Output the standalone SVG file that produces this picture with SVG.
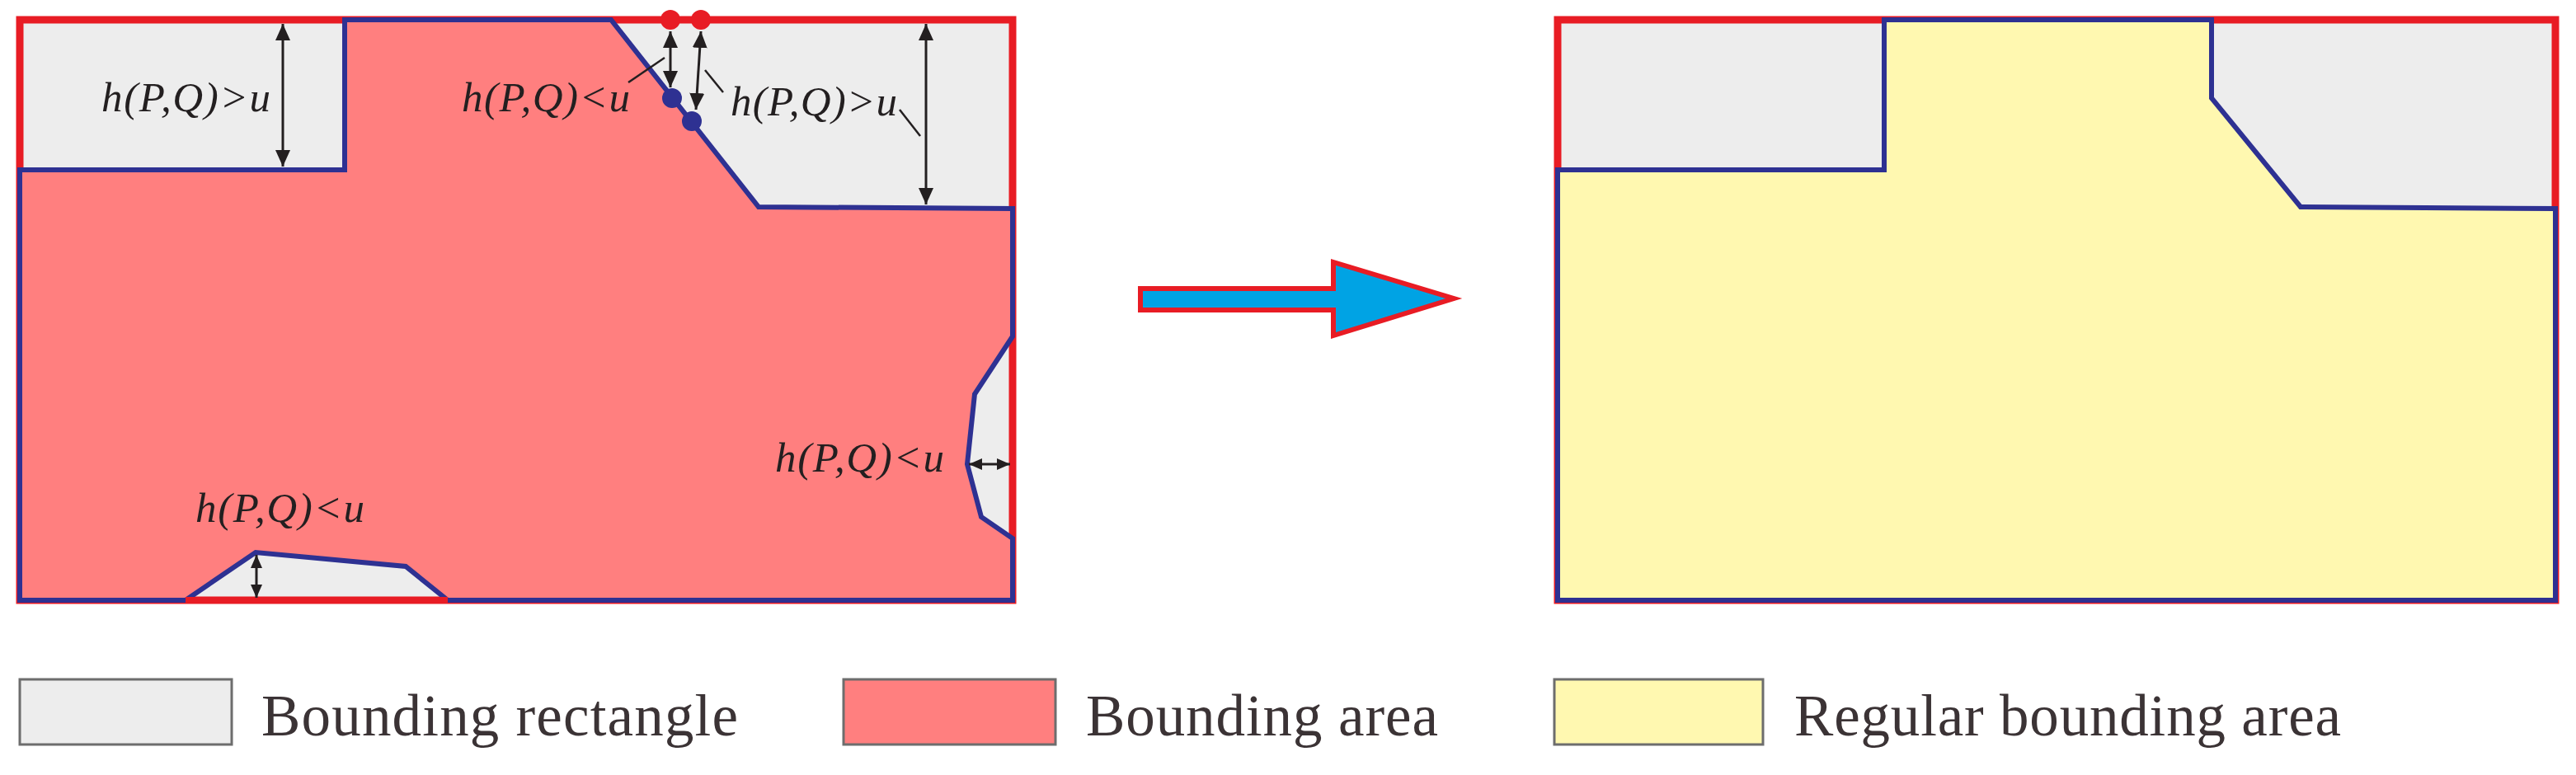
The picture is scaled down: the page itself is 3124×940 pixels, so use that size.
<svg xmlns="http://www.w3.org/2000/svg" width="3124" height="940" viewBox="0 0 3124 940">
<style>
.bg{fill:#ffffff}
.rect{fill:#ededed;stroke:#e81c24;stroke-width:9}
.area{fill:#ff7f7f;stroke:#2e3192;stroke-width:6;stroke-linejoin:miter}
.reg{fill:#fff8b0;stroke:#2e3192;stroke-width:6;stroke-linejoin:miter}
.dim{stroke:#231f20;stroke-width:3;fill:none}
.dims{stroke:#231f20;stroke-width:3;fill:none}
.lead{stroke:#231f20;stroke-width:2.5;fill:none}
.math{font-family:"Liberation Serif","Times New Roman",serif;font-style:italic;font-size:51px;fill:#231f20}
.leg{font-family:"Liberation Serif","Times New Roman",serif;font-size:71px;fill:#3b3335}
.box{stroke:#6d6d6d;stroke-width:3}
</style>
<defs>
<marker id="ah" markerUnits="userSpaceOnUse" markerWidth="20" markerHeight="18" refX="20" refY="9" orient="auto-start-reverse" viewBox="0 0 20 18">
<path d="M0,0 L20,9 L0,18 z" fill="#231f20"/>
</marker>
<marker id="ahs" markerUnits="userSpaceOnUse" markerWidth="16" markerHeight="14" refX="16" refY="7" orient="auto-start-reverse" viewBox="0 0 16 14">
<path d="M0,0 L16,7 L0,14 z" fill="#231f20"/>
</marker>
</defs>
<rect class="bg" x="0" y="0" width="3124" height="940"/>

<g id="left-panel">
<rect class="rect" x="24" y="24" width="1204" height="704"/>
<polygon class="area" points="24,206 418,206 418,24 741,24 920,251 1228,253 1228,408 1182,478 1173,563 1190,627 1228,653 1228,728 543,728 492,687 310,670 225,728 24,728"/>
<line x1="225" y1="728" x2="543" y2="728" stroke="#e81c24" stroke-width="8"/>
<circle cx="813" cy="24" r="12" fill="#e81c24"/>
<circle cx="850" cy="24" r="12" fill="#e81c24"/>
<circle cx="815" cy="119" r="12" fill="#2e3192"/>
<circle cx="839" cy="147" r="12" fill="#2e3192"/>
</g>

<g id="connectors">
<line class="dim" x1="343" y1="29" x2="343" y2="202" marker-start="url(#ah)" marker-end="url(#ah)"/>
<line class="dim" x1="813" y1="38" x2="813" y2="106" marker-start="url(#ah)" marker-end="url(#ah)"/>
<line class="dim" x1="850" y1="38" x2="844" y2="133" marker-start="url(#ah)" marker-end="url(#ah)"/>
<line class="dim" x1="1123" y1="29" x2="1123" y2="248" marker-start="url(#ah)" marker-end="url(#ah)"/>
<line class="dims" x1="1175" y1="563" x2="1225" y2="563" marker-start="url(#ahs)" marker-end="url(#ahs)"/>
<line class="dims" x1="311" y1="673" x2="311" y2="725" marker-start="url(#ahs)" marker-end="url(#ahs)"/>
<line class="lead" x1="762" y1="100" x2="806" y2="70"/>
<line class="lead" x1="855" y1="85" x2="877" y2="112"/>
<line class="lead" x1="1091" y1="133" x2="1116" y2="165"/>
</g>

<g id="labels">
<text class="math" x="123" y="135" textLength="205">h(P,Q)&gt;u</text>
<text class="math" x="560" y="135" textLength="204">h(P,Q)&lt;u</text>
<text class="math" x="886" y="140" textLength="202">h(P,Q)&gt;u</text>
<text class="math" x="940" y="572" textLength="205">h(P,Q)&lt;u</text>
<text class="math" x="237" y="633" textLength="205">h(P,Q)&lt;u</text>
</g>

<g id="transform-arrow">
<polygon points="1383,350 1617,350 1617,318 1763,362 1617,407 1617,376 1383,376" fill="#00a3e4" stroke="#e81c24" stroke-width="6" stroke-linejoin="miter"/>
</g>

<g id="right-panel">
<rect class="rect" x="1889" y="24" width="1210" height="704"/>
<polygon class="reg" points="1889,206 2285,206 2285,24 2682,24 2682,119 2790,251 3099,253 3099,728 1889,728"/>
</g>

<g id="legend-rectangle">
<rect class="box" x="24" y="824" width="257" height="79" fill="#ededed"/>
<text class="leg" x="317" y="892" textLength="578">Bounding rectangle</text>
</g>
<g id="legend-area">
<rect class="box" x="1023" y="824" width="257" height="79" fill="#ff7f7f"/>
<text class="leg" x="1317" y="892" textLength="427">Bounding area</text>
</g>
<g id="legend-regular">
<rect class="box" x="1885" y="824" width="253" height="79" fill="#fff8b0"/>
<text class="leg" x="2176" y="892" textLength="663">Regular bounding area</text>
</g>
</svg>
